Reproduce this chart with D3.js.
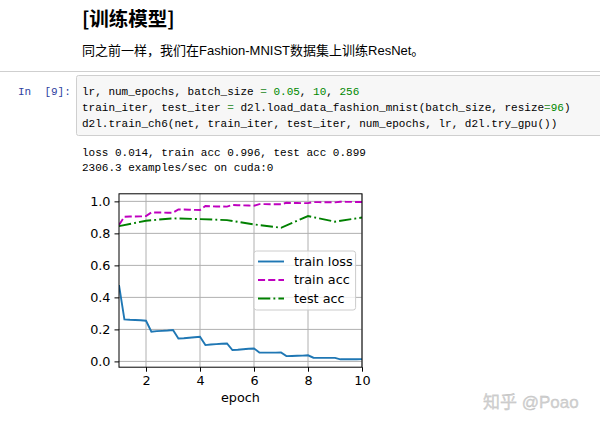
<!DOCTYPE html>
<html><head><meta charset="utf-8">
<script src="https://cdn.jsdelivr.net/npm/d3@7"></script>
<style>
html,body{margin:0;padding:0;background:#fff;}
svg{display:block;}
</style></head>
<body>
<svg id="page" width="600" height="423"></svg>
<script>
// ---- data ----
const batchX = [1.0,1.2,1.4,1.6,1.8,2.0,2.2,2.4,2.6,2.8,3.0,3.2,3.4,3.6,3.8,4.0,4.2,4.4,4.6,4.8,5.0,5.2,5.4,5.6,5.8,6.0,6.2,6.4,6.6,6.8,7.0,7.2,7.4,7.6,7.8,8.0,8.2,8.4,8.6,8.8,9.0,9.2,9.4,9.6,9.8,10.0];
const trainLoss = [0.477,0.262,0.260,0.259,0.257,0.254,0.186,0.189,0.191,0.193,0.196,0.143,0.145,0.148,0.151,0.154,0.102,0.106,0.108,0.110,0.112,0.071,0.073,0.076,0.079,0.081,0.056,0.055,0.055,0.055,0.056,0.033,0.034,0.035,0.036,0.038,0.023,0.022,0.022,0.022,0.022,0.013,0.013,0.013,0.013,0.014];
const trainAcc = [0.852,0.904,0.905,0.905,0.906,0.908,0.931,0.930,0.930,0.929,0.929,0.950,0.949,0.948,0.947,0.946,0.971,0.969,0.968,0.968,0.967,0.977,0.976,0.975,0.974,0.973,0.983,0.983,0.982,0.982,0.982,0.991,0.990,0.990,0.989,0.989,0.995,0.995,0.994,0.994,0.994,0.998,0.997,0.997,0.996,0.996];
const epochX = [1,2,3,4,5,6,7,8,9,10];
const testAcc = [0.845,0.879,0.894,0.889,0.883,0.856,0.835,0.908,0.873,0.899];
const xTicks = [2,4,6,8,10];
const yTicks = [0.0,0.2,0.4,0.6,0.8,1.0];
const seriesNames = ["train loss","train acc","test acc"];
const xLabel = "epoch";

const heading = "[训练模型]";
const intro = "同之前一样，我们在Fashion-MNIST数据集上训练ResNet。";
const prompt = "In  [9]:";
const codeLines = [
  [["lr, num_epochs, batch_size ","#000"],["=","#4a9a4a"],[" ","#000"],["0.05","#080"],[", ","#000"],["10","#080"],[", ","#000"],["256","#080"]],
  [["train_iter, test_iter ","#000"],["=","#4a9a4a"],[" d2l.load_data_fashion_mnist(batch_size, resize","#000"],["=","#4a9a4a"],["96","#080"],[")","#000"]],
  [["d2l.train_ch6(net, train_iter, test_iter, num_epochs, lr, d2l.try_gpu())","#000"]]
];
const outputLines = ["loss 0.014, train acc 0.996, test acc 0.899","2306.3 examples/sec on cuda:0"];
const watermark = "知乎 @Poao";

// ---- page ----
const svg = d3.select("#page");
const sans = "'Liberation Sans','Noto Sans CJK SC',Arial,sans-serif";
const mono = "'Liberation Mono','DejaVu Sans Mono',monospace";
const mpl = "'DejaVu Sans',sans-serif";

svg.append("text").attr("x",82).attr("y",25.5).attr("font-family","'Noto Sans CJK SC',sans-serif")
  .attr("font-weight","bold").attr("font-size",19.5).attr("fill","#000").text(heading);
svg.append("text").attr("x",82).attr("y",55).attr("font-family",sans)
  .attr("font-size",13).attr("fill","#000").text(intro);

svg.append("line").attr("x1",0).attr("x2",600).attr("y1",71.5).attr("y2",71.5).attr("stroke","#cfcfcf").attr("stroke-width",1);

svg.append("rect").attr("x",76.5).attr("y",75.5).attr("width",540).attr("height",60)
  .attr("rx",2).attr("fill","#f7f7f7").attr("stroke","#cfcfcf");

svg.append("text").attr("x",18).attr("y",95).attr("font-family",mono).attr("font-size",11)
  .attr("fill","#303F9F").attr("xml:space","preserve").style("white-space","pre").text(prompt);

codeLines.forEach((segs,i)=>{
  const t = svg.append("text").attr("x",82).attr("y",95 + i*16).attr("font-family",mono)
    .attr("font-size",11).style("white-space","pre").attr("xml:space","preserve");
  segs.forEach(s=>t.append("tspan").attr("fill",s[1]).text(s[0]));
});

outputLines.forEach((l,i)=>{
  svg.append("text").attr("x",82).attr("y",156 + i*15).attr("font-family",mono)
    .attr("font-size",11).attr("fill","#000").style("white-space","pre").text(l);
});

// ---- chart ----
const X0 = 119, X1 = 362, Y0 = 193.8, Y1 = 367.2;
const allY = trainLoss.concat(trainAcc, testAcc);
const [ymin, ymax] = d3.extent(allY);
const pad = (ymax - ymin) * 0.05;
const x = d3.scaleLinear().domain([1,10]).range([X0,X1]);
const y = d3.scaleLinear().domain([ymin - pad, ymax + pad]).range([Y1,Y0]);

const g = svg.append("g");
svg.append("defs").append("clipPath").attr("id","clip").append("rect")
  .attr("x",X0).attr("y",Y0).attr("width",X1-X0).attr("height",Y1-Y0);

// grid
g.append("g").selectAll("line").data(xTicks).join("line")
  .attr("x1",d=>x(d)).attr("x2",d=>x(d)).attr("y1",Y0).attr("y2",Y1)
  .attr("stroke","#b0b0b0").attr("stroke-width",1);
g.append("g").selectAll("line").data(yTicks).join("line")
  .attr("y1",d=>y(d)).attr("y2",d=>y(d)).attr("x1",X0).attr("x2",X1)
  .attr("stroke","#b0b0b0").attr("stroke-width",1);

// lines
const line = d3.line().x(d=>x(d[0])).y(d=>y(d[1]));
const lw = 1.9;
const plot = g.append("g").attr("clip-path","url(#clip)");
plot.append("path").datum(batchX.map((v,i)=>[v,trainLoss[i]])).attr("d",line)
  .attr("fill","none").attr("stroke","#1f77b4").attr("stroke-width",lw);
plot.append("path").datum(batchX.map((v,i)=>[v,trainAcc[i]])).attr("d",line)
  .attr("fill","none").attr("stroke","#bf00bf").attr("stroke-width",lw).attr("stroke-dasharray","7.1,3.1");
plot.append("path").datum(epochX.map((v,i)=>[v,testAcc[i]])).attr("d",line)
  .attr("fill","none").attr("stroke","#008000").attr("stroke-width",lw).attr("stroke-dasharray","12.3,3.1,1.9,3.1");

// axes
const xAxis = d3.axisBottom(x).tickValues(xTicks).tickFormat(d3.format("d")).tickSize(4.5).tickPadding(4);
const yAxis = d3.axisLeft(y).tickValues(yTicks).tickFormat(d3.format(".1f")).tickSize(4.5).tickPadding(4);
const gx = g.append("g").attr("transform",`translate(0,${Y1})`).call(xAxis);
const gy = g.append("g").attr("transform",`translate(${X0},0)`).call(yAxis);
[gx,gy].forEach(a=>{
  a.select(".domain").remove();
  a.selectAll(".tick line").attr("stroke","#000").attr("stroke-width",1);
  a.selectAll("text").attr("font-family",mpl).attr("font-size",12.8).attr("fill","#000");
});
gx.selectAll("text").attr("dy","0.75em");

// spines
g.append("rect").attr("x",X0).attr("y",Y0).attr("width",X1-X0).attr("height",Y1-Y0)
  .attr("fill","none").attr("stroke","#000").attr("stroke-width",1);

g.append("text").attr("x",(X0+X1)/2).attr("y",402).attr("text-anchor","middle")
  .attr("font-family",mpl).attr("font-size",12.8).text(xLabel);

// legend
const lg = g.append("g");
lg.append("rect").attr("x",254).attr("y",251).attr("width",101.6).attr("height",59)
  .attr("rx",2.5).attr("fill","#fff").attr("fill-opacity",0.8).attr("stroke","#cccccc");
const styles = [["#1f77b4",null],["#bf00bf","7.1,3.1"],["#008000","12.3,3.1,1.9,3.1"]];
const rowY = [261.5,280,298.5];
seriesNames.forEach((n,i)=>{
  lg.append("line").attr("x1",258).attr("x2",284).attr("y1",rowY[i]).attr("y2",rowY[i])
    .attr("stroke",styles[i][0]).attr("stroke-width",lw).attr("stroke-dasharray",styles[i][1]);
  lg.append("text").attr("x",294).attr("y",rowY[i]).attr("dy","0.35em")
    .attr("font-family",mpl).attr("font-size",12.8).text(n);
});

// watermark
svg.append("text").attr("x",483).attr("y",408).attr("font-family",sans).attr("font-size",17)
  .attr("fill","#d2d2d2").attr("stroke","#bdbdbd").attr("stroke-width",0.3).text(watermark);
</script>
</body></html>
